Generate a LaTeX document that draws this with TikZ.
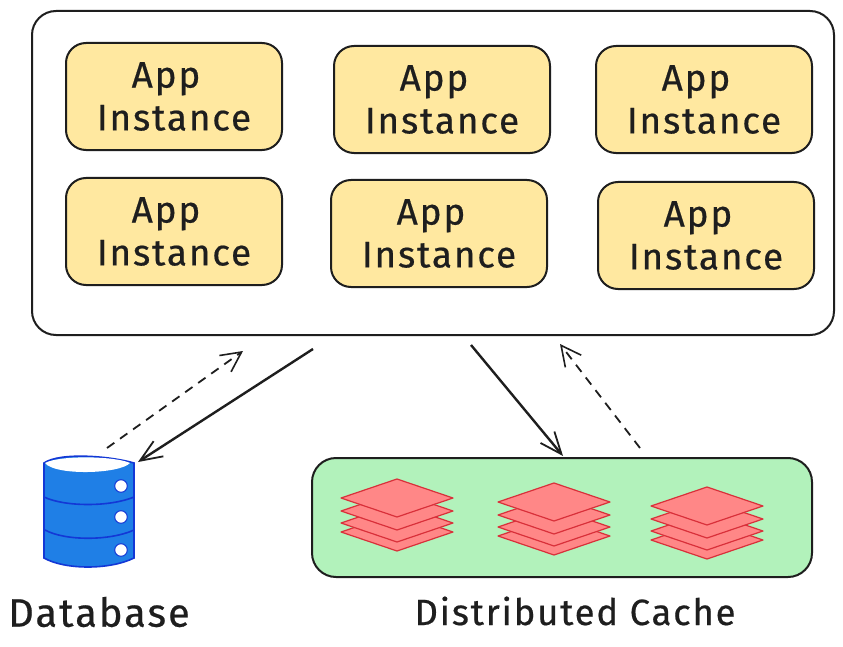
\documentclass[tikz,border=0pt]{standalone}
\usepackage{fontspec}
\setmainfont[LetterSpace=5,FakeBold=0.5]{Fira Sans}
\usetikzlibrary{arrows.meta,positioning,calc}
\definecolor{ink}{HTML}{1E1E1E}
\definecolor{appfill}{HTML}{FFE8A0}
\definecolor{cachefill}{HTML}{B2F2BB}
\definecolor{layerfill}{HTML}{FF8787}
\definecolor{layerline}{HTML}{D9303A}
\definecolor{dbfill}{HTML}{1F7FE6}
\definecolor{dbline}{HTML}{1338D6}
\tikzset{
  x=1bp,y=-1bp,
  panel/.style={draw=ink,line width=2bp,rounded corners=24bp,inner sep=0pt,outer sep=0pt,anchor=north west},
  appbox/.style={panel,fill=appfill,rounded corners=20bp,minimum width=216bp,minimum height=107bp,
    text=ink,align=center,font=\fontsize{37}{43}\selectfont},
  flow/.style={draw=ink,line width=2.4bp,-{Straight Barb[length=22bp,width=18bp,line width=1.8bp]}},
  flowback/.style={draw=ink,line width=1.8bp,dash pattern=on 9bp off 7bp,
    -{Straight Barb[length=20bp,width=20bp,line width=1.6bp]}},
  caption/.style={text=ink,font=\fontsize{36.6}{40}\selectfont,inner sep=0pt},
  layer/.style={draw=layerline,fill=layerfill,line width=1.2bp,line join=round},
  disk/.style={draw=dbline,line width=1.6bp},
}
\newcommand{\layerat}[2]{\path[layer] (#1-56,#2) -- (#1,#2-19) -- (#1+56,#2) -- (#1,#2+19) -- cycle;}
\newcommand{\stackat}[2]{%
  \layerat{#1}{#2+34}\layerat{#1}{#2+25}\layerat{#1}{#2+13}\layerat{#1}{#2}}
\newcommand{\apptext}{App\hspace*{16bp}\\Instance}
\begin{document}
\begin{tikzpicture}
\useasboundingbox[fill=white] (0,0) rectangle (843,647);

% main container
\node[panel,fill=white,minimum width=802bp,minimum height=324bp] (main) at (32,11) {};

% app instances
\node[appbox] (a1) at (66,43)  {\apptext};
\node[appbox] (a2) at (334,46) {\apptext};
\node[appbox] (a3) at (596,46) {\apptext};
\node[appbox] (a4) at (66,178) {\apptext};
\node[appbox] (a5) at (331,180) {\apptext};
\node[appbox] (a6) at (598,182) {\apptext};

% cache
\node[panel,fill=cachefill,minimum width=500bp,minimum height=119bp] (cache) at (312,458) {};
\stackat{397}{498}
\stackat{554}{502}
\stackat{707}{506}

% database
\path[disk,fill=dbfill] (44,463) .. controls (60,452) and (110,456) .. (134,463) -- (134,558)
  .. controls (110,570) and (65,570) .. (44,558) -- cycle;
\path[fill=white] (45,463) .. controls (60,455) and (115,456) .. (130,463)
  .. controls (120,474) and (55,476) .. (45,463) -- cycle;
\draw[disk] (44,497) .. controls (65,507) and (110,507) .. (134,497);
\draw[disk] (45,530) .. controls (65,541) and (110,541) .. (134,530);
\foreach \yc in {486,517,550}
  \draw[dbline,fill=white,line width=1bp] (121,\yc) circle (6.3bp);
\node[caption,font=\fontsize{40}{43}\selectfont] (dblabel) at (99,612) {Database};
\node[caption] (cachelabel) at (575,611) {Distributed Cache};

% connectors
\coordinate (mainA) at (313,349);
\coordinate (mainB) at (243,351);
\coordinate (mainC) at (471,345);
\coordinate (mainD) at (560,344);
\coordinate (dbA) at (138,462);
\coordinate (dbB) at (107,448);
\coordinate (cacheA) at (563,456);
\coordinate (cacheB) at (640,448);
\draw[flow] (mainA) -- (dbA);
\draw[flowback] (dbB) -- (mainB);
\draw[flow] (mainC) -- (cacheA);
\draw[flowback] (cacheB) -- (mainD);
\end{tikzpicture}
\end{document}
